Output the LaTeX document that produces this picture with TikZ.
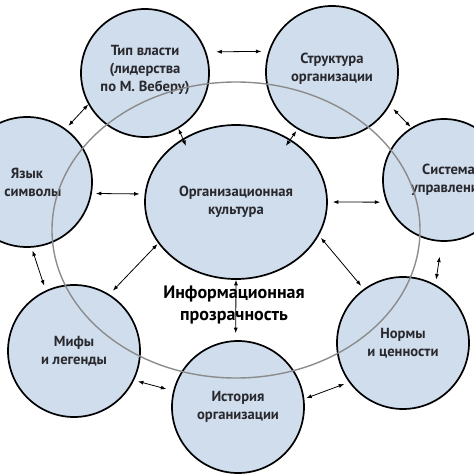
\documentclass[tikz,border=0pt]{standalone}
\usepackage{fontspec}
\setmainfont{PT Sans}
\usetikzlibrary{arrows.meta,shapes.geometric}
\definecolor{bubfill}{RGB}{207,221,237}
\definecolor{bubtext}{RGB}{40,40,45}
\definecolor{ringgray}{RGB}{140,140,140}
\tikzset{
  bub/.style={circle, draw=black, fill=bubfill, line width=1.7pt, inner sep=0pt,
    align=center, text=bubtext, font=\bfseries\fontsize{14.6}{18}\selectfont},
  dbl/.style={{Latex[length=5.5pt,width=4pt]}-{Latex[length=5.5pt,width=4pt]}, line width=0.8pt, draw=black},
  ring/.style={draw=ringgray, line width=1.4pt},
}
\begin{document}
\begin{tikzpicture}[x=1pt,y=-1pt]
\useasboundingbox (0,0) rectangle (474,474);
\clip (0,0) rectangle (474,474);
\node[bub, minimum size=128pt] (T) at (145,73) {Тип власти\\(лидерства\\по М. Веберу)\\[-8pt]\mbox{}};
\node[bub, minimum size=132pt] (S) at (332,72) {Структура\\организации\\[-8pt]\mbox{}};
\node[bub, ellipse, minimum width=182pt, minimum height=154pt] (C) at (236,202) {Организационная\\культура};
\node[bub, minimum size=130pt] (L) at (27,182) {Язык\\и символы};
\node[bub, minimum size=122pt] (Sys) at (444,180) {\hspace*{9pt}Система\\\hspace*{9pt}управления};
\node[bub, minimum size=132pt] (M) at (74,351) {Мифы\\и легенды};
\node[bub, minimum size=132pt] (H) at (238,407) {История\\организации};
\node[bub, minimum size=132pt] (N) at (403,343) {Нормы\\и ценности};
\draw[ring] (236,230) ellipse [x radius=184, y radius=148];
\node[align=center, text=black, font=\bfseries\fontsize{18}{22}\selectfont] (info) at (234,305) {Информационная\\прозрачность};
\draw[dbl, shorten <=10pt, shorten >=7pt] (T.19) -- (S.162);
\draw[dbl, shorten >=4pt] (T.209) -- (L.54);
\draw[dbl, shorten >=-8pt] (T.301) -- (C.130);
\draw[dbl, shorten <=2pt, shorten >=-8pt] (S.239) -- (C.49);
\draw[dbl, shorten <=5pt, shorten >=1pt] (S.330) -- (Sys.122);
\draw[dbl, shorten <=4pt, shorten >=5pt] (L.-10) -- (C.175);
\draw[dbl, shorten <=5pt, shorten >=6pt] (C.0) -- (Sys.201);
\draw[dbl, shorten <=3pt, shorten >=5pt] (L.274) -- (M.115);
\draw[dbl, shorten <=5pt, shorten >=1pt] (M.58) -- (C.208);
\draw[dbl, shorten >=7pt] (C.270) -- (H.92);
\draw[dbl, shorten <=3pt, shorten >=4pt] (C.-22) -- (N.126);
\draw[dbl, shorten <=15pt, shorten >=5pt] (Sys.268) -- (N.61);
\draw[dbl, shorten <=4pt, shorten >=7pt] (M.334) -- (H.166);
\draw[dbl, shorten <=2pt, shorten >=5pt] (H.7) -- (N.216);
\end{tikzpicture}
\end{document}
